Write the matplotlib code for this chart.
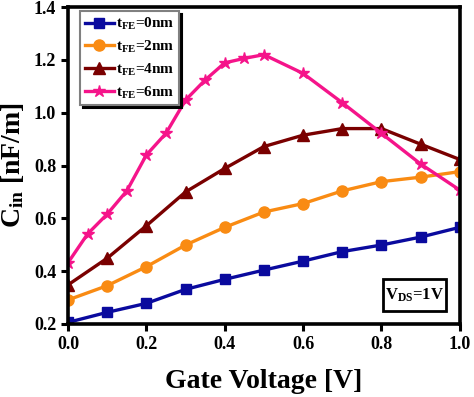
import matplotlib
matplotlib.use("Agg")
import matplotlib.pyplot as plt
from matplotlib.patches import Rectangle

plt.rcParams['font.family'] = 'Liberation Serif'
plt.rcParams['font.weight'] = 'bold'
plt.rcParams['mathtext.fontset'] = 'custom'
plt.rcParams['mathtext.rm'] = 'Liberation Serif:bold'
plt.rcParams['mathtext.it'] = 'Liberation Serif:bold'
plt.rcParams['mathtext.bf'] = 'Liberation Serif:bold'

# data
vg = [0.0, 0.1, 0.2, 0.3, 0.4, 0.5, 0.6, 0.7, 0.8, 0.9, 1.0]
c_0nm = [0.206, 0.244, 0.278, 0.331, 0.369, 0.404, 0.438, 0.474, 0.499, 0.529, 0.566]
c_2nm = [0.291, 0.345, 0.417, 0.499, 0.566, 0.624, 0.656, 0.704, 0.739, 0.756, 0.777]
c_4nm = [0.348, 0.449, 0.572, 0.700, 0.789, 0.872, 0.915, 0.940, 0.940, 0.881, 0.823]
vg_6 = [0.0, 0.05, 0.1, 0.15, 0.2, 0.25, 0.3, 0.35, 0.4, 0.45, 0.5, 0.6, 0.7, 0.8, 0.9, 1.0]
c_6nm = [0.432, 0.541, 0.616, 0.704, 0.840, 0.922, 1.048, 1.124, 1.189, 1.206, 1.220,
         1.149, 1.038, 0.922, 0.806, 0.707]

fig = plt.figure(figsize=(4.74, 3.97), dpi=100)
ax = fig.add_axes([0.1435, 0.184, 0.8265, 0.798])

lw = 2.4
ax.plot(vg, c_0nm, color='#0a0a9e', marker='s', ms=7, lw=lw, label=r't$_{\mathrm{FE}}$=0nm')
ax.plot(vg, c_2nm, color='#f98b13', marker='o', ms=8, lw=lw, label=r't$_{\mathrm{FE}}$=2nm')
ax.plot(vg, c_4nm, color='#7a0000', marker='^', ms=8, lw=lw, label=r't$_{\mathrm{FE}}$=4nm')
ax.plot(vg_6, c_6nm, color='#f5148a', marker='*', ms=9, lw=lw, label=r't$_{\mathrm{FE}}$=6nm')

ax.set_xlim(0, 1.0)
ax.set_ylim(0.2, 1.4)
ax.set_xticks([0.0, 0.2, 0.4, 0.6, 0.8, 1.0])
ax.set_yticks([0.2, 0.4, 0.6, 0.8, 1.0, 1.2, 1.4])
ax.set_xticklabels(['0.0', '0.2', '0.4', '0.6', '0.8', '1.0'])
ax.set_yticklabels(['0.2', '0.4', '0.6', '0.8', '1.0', '1.2', '1.4'])
ax.tick_params(direction='out', width=2.2, length=5, labelsize=13)
for s in ax.spines.values():
    s.set_linewidth(2.6)

ax.set_xlabel('Gate Voltage [V]', fontsize=20, fontweight='bold', labelpad=12)
ax.set_ylabel(r'C$_{\mathrm{in}}$ [nF/m]', fontsize=20, fontweight='bold', labelpad=6)

leg = ax.legend(loc='upper left', bbox_to_anchor=(0.031, 0.987), borderaxespad=0,
                fontsize=11, handlelength=1.9, handletextpad=0.15, labelspacing=0.45,
                borderpad=0.3, fancybox=False, shadow={'color': 'black', 'alpha': 1},
                framealpha=1)
leg.get_frame().set_edgecolor('#808080')
leg.get_frame().set_linewidth(1.5)

# V_DS note with its box
ax.add_patch(Rectangle((0.803, 0.041), 0.163, 0.101, transform=ax.transAxes,
                       facecolor='white', edgecolor='black', linewidth=2, zorder=5))
ax.text(0.8845, 0.091, r'V$_{\mathrm{DS}}$=1V', transform=ax.transAxes, fontsize=12,
        ha='center', va='center', zorder=6)

fig.savefig('out.png', dpi=100)
